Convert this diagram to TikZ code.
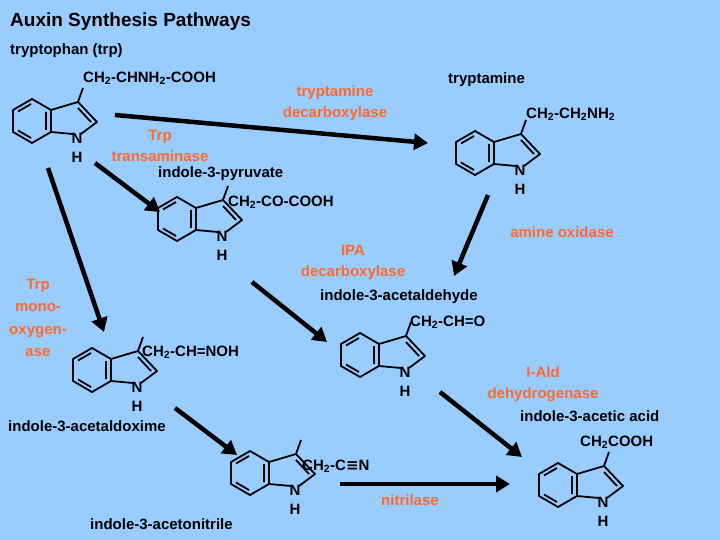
\documentclass[tikz,border=0pt]{standalone}
\usepackage{fontspec}
\setmainfont{Liberation Sans}
\newfontfamily\djv{DejaVu Sans}
\usetikzlibrary{arrows.meta}
\definecolor{bg}{HTML}{99CCFF}
\definecolor{org}{HTML}{FF6A2A}
\tikzset{
  lbl/.style={font=\fontsize{15}{17}\selectfont\bfseries, inner sep=0pt, anchor=west},
  enz/.style={font=\fontsize{15}{21}\selectfont\bfseries, inner sep=0pt, text=org, align=center},
  arr/.style={line width=4.5pt, -{Triangle[length=14pt,width=16pt]}},
  pics/indole/.style={code={
    \draw[line width=1.8pt, line join=round]
      (0,-22) -- (-19,-11) -- (-19,11) -- (0,22) -- (19,11) -- (19,-11) -- cycle
      (19,-11) -- (46,-19) -- (65,1) -- (49,13)
      (41,13) -- (19,11)
      (46,-19) -- (51,-33);
    \draw[line width=1.8pt]
      (-1,-17) -- (-14,-9.5)
      (-14,9.5) -- (-1,17)
      (14,-9) -- (14,9)
      (46,-13) -- (59,1);
    \node[font=\fontsize{15}{17}\selectfont\bfseries, inner sep=0pt] at (45,17) {N};
    \node[font=\fontsize{15}{17}\selectfont\bfseries, inner sep=0pt] at (45,36) {H};
  }}
}
\begin{document}
\begin{tikzpicture}[x=1pt,y=-1pt]
\fill[bg] (0,0) rectangle (720,540);
\useasboundingbox (0,0) rectangle (720,540);
\node[lbl, font=\fontsize{19}{21}\selectfont\bfseries] (title) at (10,22) {Auxin Synthesis Pathways};
\node[lbl] (trpname) at (10,51) {tryptophan (trp)};

\pic at (32,121) {indole};
\node[lbl] (c1) at (83,78) {CH\textsubscript{2}-CHNH\textsubscript{2}-COOH};
\pic at (475,153) {indole};
\node[lbl] at (448,80) {tryptamine};
\node[lbl] at (526,114) {CH\textsubscript{2}-CH\textsubscript{2}NH\textsubscript{2}};
\pic at (177,219) {indole};
\node[lbl] at (158,174) {indole-3-pyruvate};
\node[lbl] at (228,202) {CH\textsubscript{2}-CO-COOH};
\pic at (360,355) {indole};
\node[lbl] at (320,297) {indole-3-acetaldehyde};
\node[lbl] at (410,322) {CH\textsubscript{2}-CH=O};
\pic at (92,370) {indole};
\node[lbl] at (142,352) {CH\textsubscript{2}-CH=NOH};
\node[lbl] at (8,426) {indole-3-acetaldoxime};
\pic at (250,473) {indole};
\node[lbl] at (302,466) {CH\textsubscript{2}-C{\djv ≡}N};
\node[lbl] at (90,524) {indole-3-acetonitrile};
\pic at (558,485) {indole};
\node[lbl] at (520,416) {indole-3-acetic acid};
\node[lbl] at (580,442) {CH\textsubscript{2}COOH};

\node[enz] (e1) at (335,103) {tryptamine\\decarboxylase};
\node[enz] (e2) at (160,146) {Trp\\transaminase};
\node[enz] (e3) at (562,232) {amine oxidase};
\node[enz] (e4) at (353,262) {IPA\\decarboxylase};
\node[enz, font=\fontsize{15}{22.5}\selectfont\bfseries] (e5) at (38,318) {Trp\\mono-\\oxygen-\\ase};
\node[enz] (e6) at (543,384) {I-Ald\\dehydrogenase};
\node[enz] (e7) at (410,500) {nitrilase};

\coordinate (a1s) at (115,115); \coordinate (a1e) at (428,143);
\coordinate (a2s) at (95,163);  \coordinate (a2e) at (160,212);
\coordinate (a3s) at (48,168);  \coordinate (a3e) at (104,332);
\coordinate (a4s) at (488,195); \coordinate (a4e) at (454,276);
\coordinate (a5s) at (252,282); \coordinate (a5e) at (327,342);
\coordinate (a6s) at (175,408); \coordinate (a6e) at (237,455);
\coordinate (a7s) at (440,392); \coordinate (a7e) at (522,457);
\coordinate (a8s) at (340,484); \coordinate (a8e) at (510,484);
\foreach \i in {1,...,8} \draw[arr] (a\i s) -- (a\i e);
\end{tikzpicture}
\end{document}
